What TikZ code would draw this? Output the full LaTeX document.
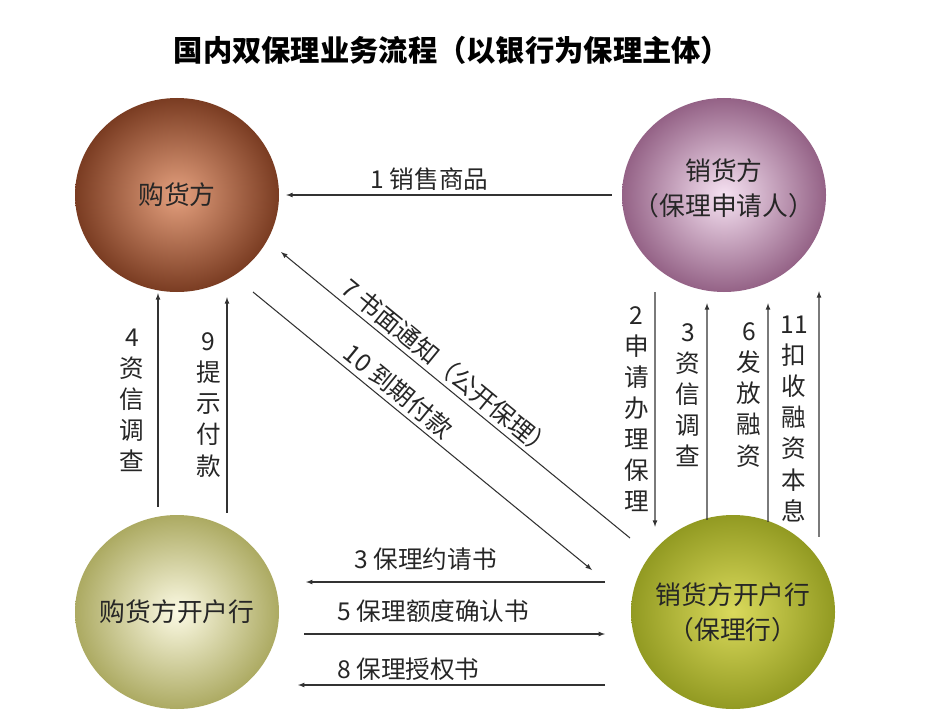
\documentclass[tikz,border=0pt]{standalone}
\usepackage{fontspec}
\setmainfont{Noto Sans CJK SC}
\usetikzlibrary{shapes.geometric,calc,arrows}

\definecolor{cafe}{RGB}{122,60,34}
\definecolor{cafeclaro}{RGB}{228,160,126}
\definecolor{malva}{RGB}{148,98,134}
\definecolor{malvaclaro}{RGB}{246,226,242}
\definecolor{crema}{RGB}{172,170,98}
\definecolor{cremaclaro}{RGB}{252,250,228}
\definecolor{oliva}{RGB}{146,154,34}
\definecolor{olivaclaro}{RGB}{218,218,92}
\definecolor{linea}{RGB}{50,50,50}

\tikzset{
  estilo esferas/.style={
      x=0.3mm, y=-0.3mm,
      esfera/.style={ellipse, minimum width=61.2mm, minimum height=58.2mm, inner sep=0pt, shading=radial},
      texto esfera/.style={align=center, text=black!85, font={\fontsize{22}{30}\selectfont}},
      flecha/.style={-latex, line width=0.9pt, draw=linea},
      rotulo/.style={font={\fontsize{21}{26.5}\selectfont}, text=black!85},
      columna/.style={rotulo, align=center},
    },
}

\begin{document}
\begin{tikzpicture}[estilo esferas]
    \useasboundingbox (0,0) rectangle (928,726);
    \node[font={\fontsize{25}{30}\selectfont\bfseries}] (titulo) at (452,50) {国内双保理业务流程（以银行为保理主体）};

    \node[esfera, inner color=cafeclaro, outer color=cafe,
        label={[texto esfera]center:购货方}] (comprador) at (177,195) {};
    \node[esfera, right of=comprador, node distance=164.1mm, inner color=malvaclaro, outer color=malva,
        label={[texto esfera, yshift=2mm]center:销货方\\（保理申请人）}] (vendedor) {};
    \node[esfera, below of=comprador, node distance=125.1mm, inner color=cremaclaro, outer color=crema,
        label={[texto esfera]center:购货方开户行}] (bancoC) {};
    \node[esfera, right of=bancoC, node distance=166.8mm, inner color=olivaclaro, outer color=oliva,
        label={[texto esfera]center:销货方开户行\\（保理行）}] (bancoV) {};

    % arriba y diagonales
    \draw[flecha] ($(vendedor.west)+(-10,0)$) -- node[rotulo, above, pos=0.56] {1 销售商品} ($(comprador.east)+(7,0)$);
    \draw[flecha] ($(bancoV.center)+(-103,-74)$) -- node[rotulo, sloped, above, pos=0.55] {7 书面通知（公开保理）} ($(comprador.center)+(104,57)$);
    \draw[flecha] ($(comprador.center)+(76,97)$) -- node[rotulo, sloped, above, pos=0.4] {10 到期付款} ($(bancoV.center)+(-141,-42)$);

    % lado izquierdo
    \draw[flecha] ($(bancoC.north)+(-19,-8)$) -- node[columna, left=2.8mm] {4\\资\\信\\调\\查} ($(comprador.south)+(-19,1)$);
    \draw[flecha] ($(bancoC.north)+(50,-2)$) -- node[columna, left=0.5mm] {9\\提\\示\\付\\款} ($(comprador.south)+(50,5)$);

    % lado derecho
    \draw[flecha] ($(vendedor.south)+(-69,0)$) -- node[columna, left=0.5mm] {2\\申\\请\\办\\理\\保\\理} ($(bancoV.north)+(-78,12)$);
    \draw[flecha] ($(bancoV.north)+(-26,5)$) -- node[columna, left=0.7mm, pos=0.576] {3\\资\\信\\调\\查} ($(vendedor.south)+(-17,11)$);
    \draw[flecha] ($(bancoV.north)+(35,7)$) -- node[columna, left=0.7mm, pos=0.58] {6\\发\\放\\融\\资} ($(vendedor.south)+(44,11)$);
    \draw[flecha] ($(bancoV.north)+(86,22)$) -- node[columna, left=2mm, pos=0.48] {11\\扣\\收\\融\\资\\本\\息} ($(vendedor.south)+(95,-1)$);

    % abajo
    \draw[flecha] ($(bancoV.center)+(-128,-30)$) -- node[rotulo, above=2mm, pos=0.6] {3 保理约请书} ($(bancoC.center)+(129,-30)$);
    \draw[flecha] ($(bancoC.center)+(127,22)$) -- node[rotulo, above=2mm, pos=0.43] {5 保理额度确认书} ($(bancoV.center)+(-128,22)$);
    \draw[flecha] ($(bancoV.center)+(-128,73)$) -- node[rotulo, above, pos=0.64] {8 保理授权书} ($(bancoC.center)+(121,73)$);
\end{tikzpicture}
\end{document}
